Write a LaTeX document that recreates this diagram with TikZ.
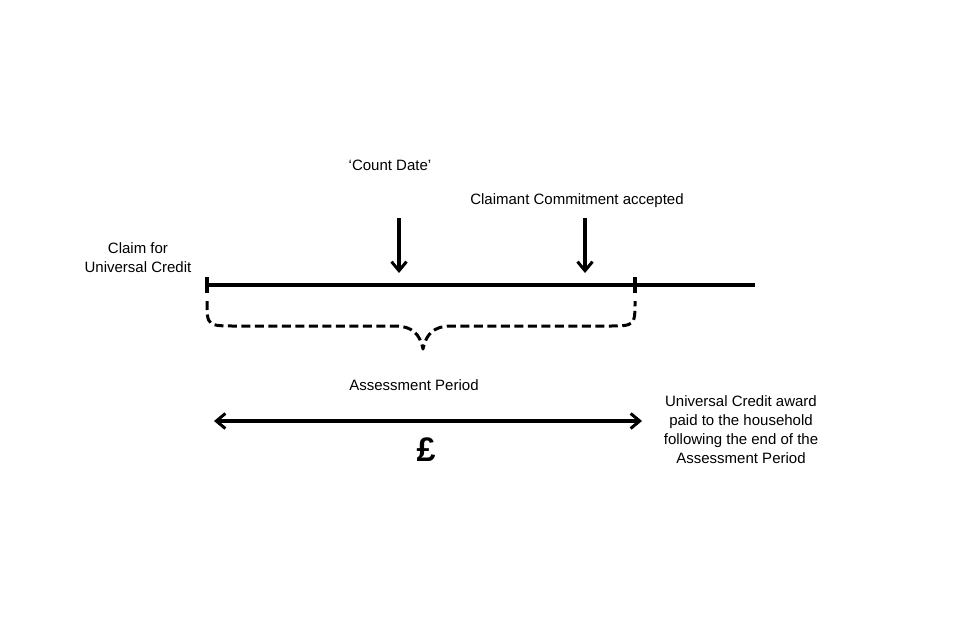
\documentclass[tikz,border=0pt]{standalone}
\usepackage{fontspec}
\setmainfont{Liberation Sans}
\usetikzlibrary{arrows.meta}
\tikzset{
  txt/.style={font=\fontsize{15}{19}\selectfont, align=center, inner sep=0pt},
  timeline/.style={line width=3.2pt},
  barb/.tip={Straight Barb[length=9pt,width=15pt,line width=3pt]},
  marker/.style={line width=3.2pt, -barb},
  span/.style={line width=3.2pt, barb-barb},
  dashbrace/.style={line width=3pt, dash pattern=on 9pt off 4.5pt, line join=round}
}
\begin{document}
\begin{tikzpicture}[x=1pt,y=-1pt]
  \useasboundingbox (0,0) rectangle (960,640);
  \fill[white] (0,0) rectangle (960,640);

  % timeline
  \coordinate (start) at (207,285);
  \coordinate (end) at (635,285);
  \coordinate (tail) at (755,285);
  \draw[timeline] (start) -- (tail);
  \draw[timeline] ([yshift=-8pt]start) -- ([yshift=8pt]start);
  \draw[timeline] ([yshift=-8pt]end) -- ([yshift=8pt]end);

  \node[txt] (claim) at (138,258) {Claim for\\Universal Credit};
  \node[txt] (count) at (390,165) {`Count Date'};
  \node[txt] (commit) at (577,201) {Claimant Commitment accepted};

  \coordinate (counttop) at (399,218);
  \coordinate (countbot) at (399,273);
  \coordinate (committop) at (585,218);
  \coordinate (commitbot) at (585,273);
  \draw[marker] (counttop) -- (countbot);
  \draw[marker] (committop) -- (commitbot);

  % assessment period brace
  \draw[dashbrace] (207,301) .. controls (207,326) .. (237,326) -- (395,326)
    .. controls (412,326) and (420,334) .. (423,349) .. controls (426,334) and (434,326) .. (451,326)
    -- (607,326) .. controls (635,326) .. (635,301);
  \node[txt] (period) at (414,385) {Assessment Period};

  % payment
  \coordinate (payl) at (214,421);
  \coordinate (payr) at (642,421);
  \draw[span] (payl) -- (payr);
  \node[font=\fontsize{34}{34}\selectfont\bfseries, inner sep=0pt] (pound) at (426,450) {£};
  \node[txt] (award) at (741,430) {Universal Credit award\\paid to the household\\following the end of the\\Assessment Period};
\end{tikzpicture}
\end{document}
